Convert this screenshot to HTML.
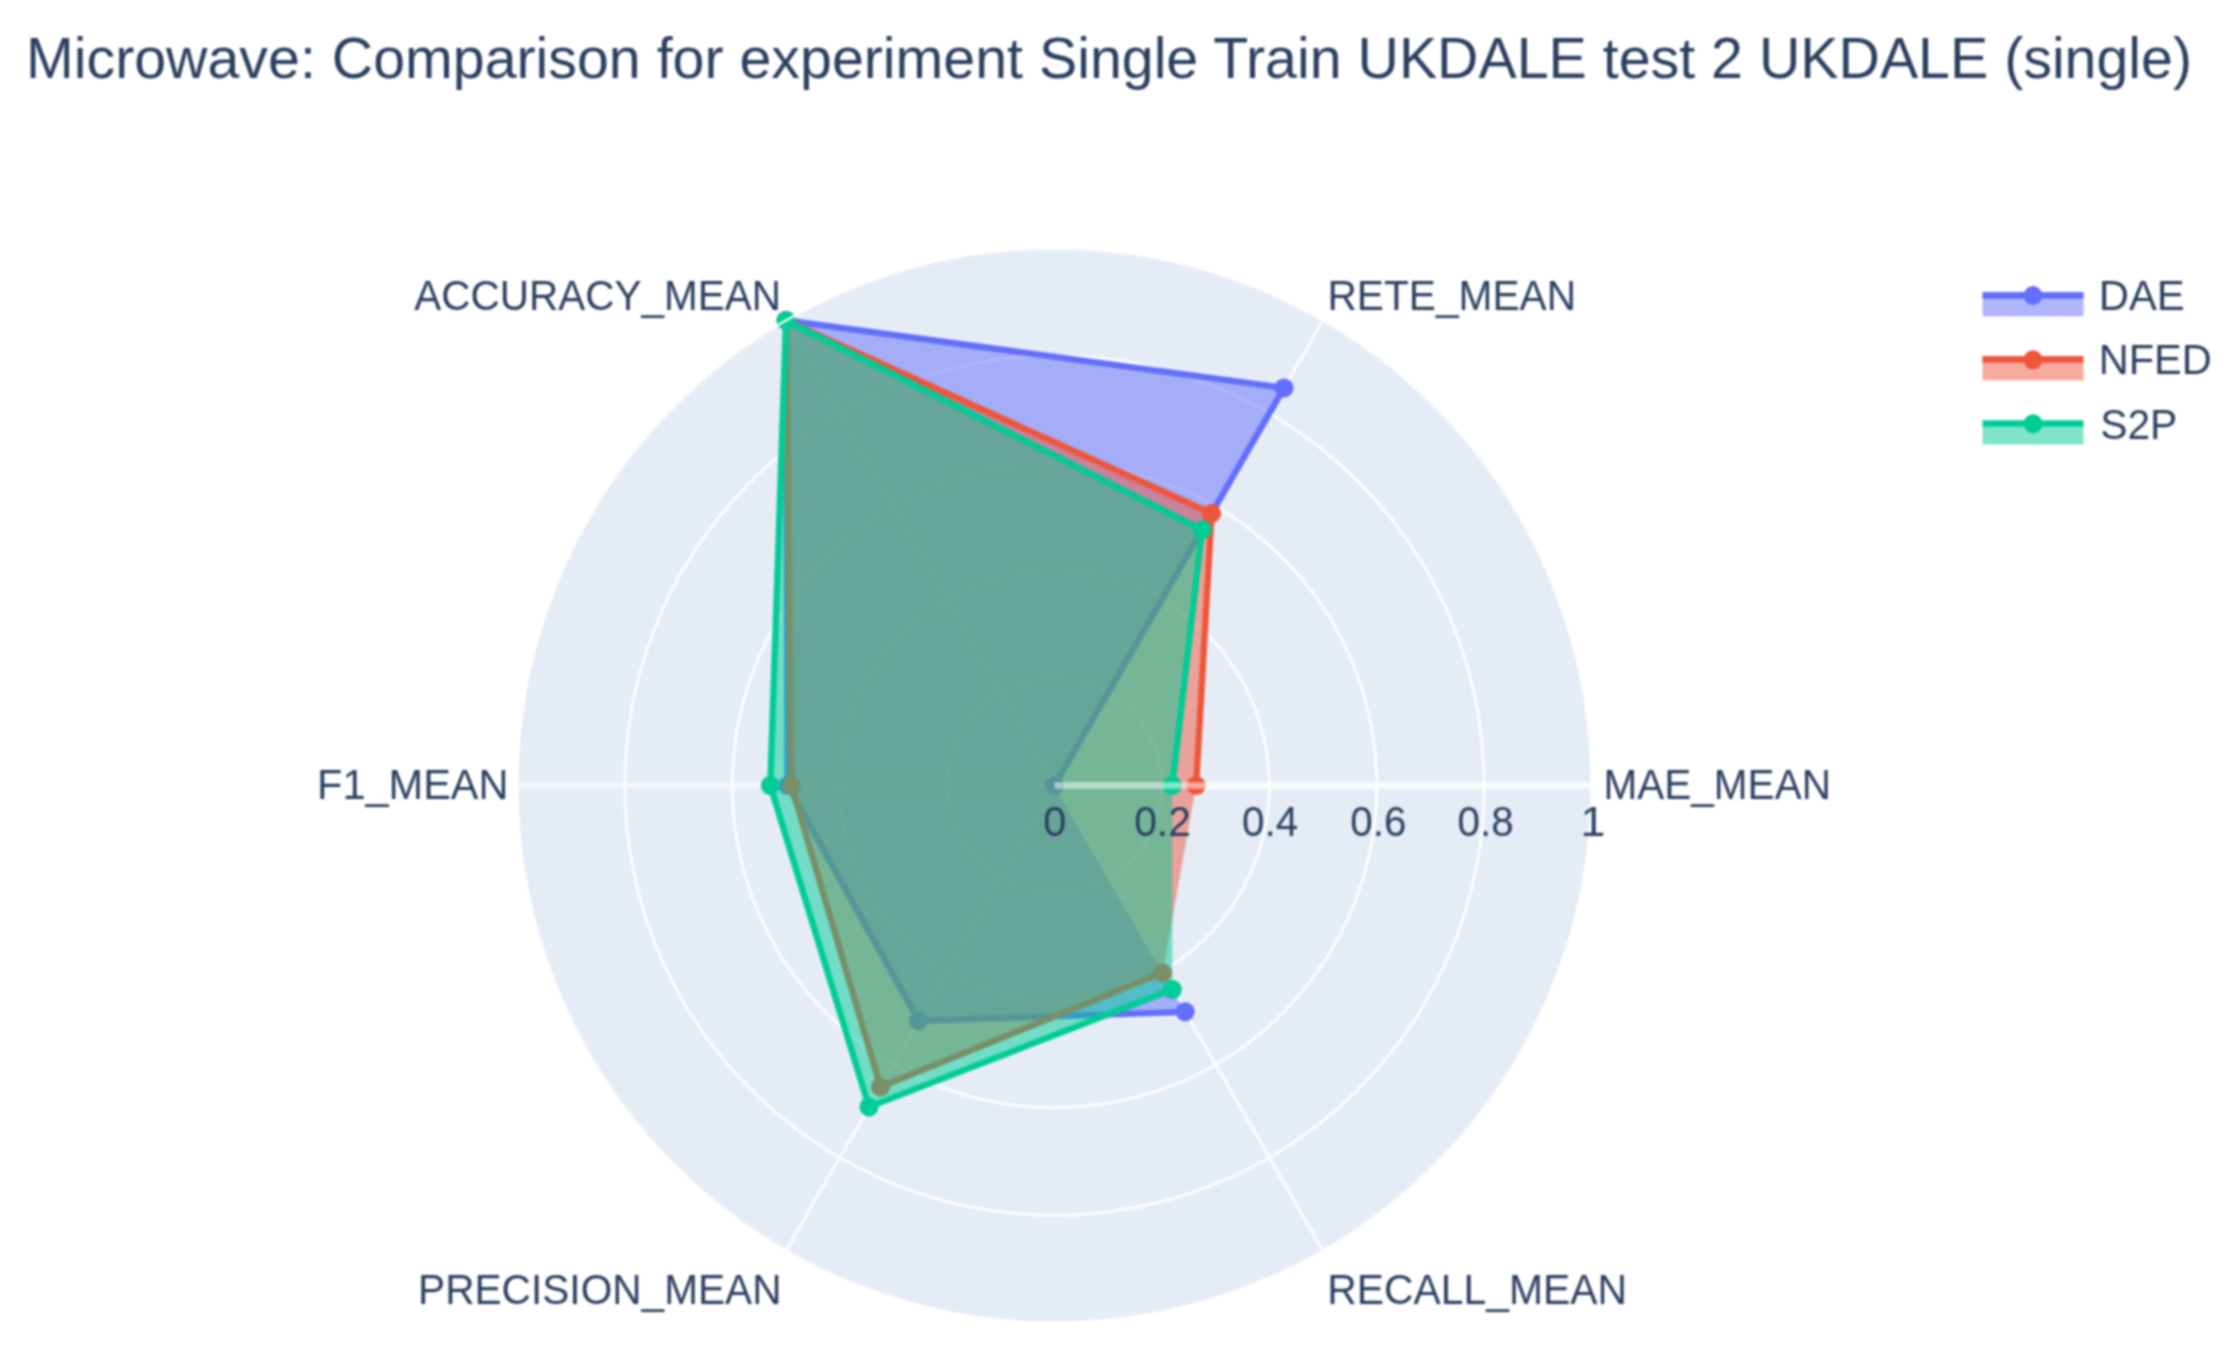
<!DOCTYPE html>
<html lang="en"><head><meta charset="utf-8"><title>Microwave: Comparison</title>
<style>html,body{margin:0;padding:0;background:#fff}body{width:2237px;height:1361px;overflow:hidden}</style></head>
<body>
<svg width="2237" height="1361" viewBox="0 0 2237 1361" style="display:block;filter:blur(0.9px);font-family:'Liberation Sans',sans-serif">
<rect width="2237" height="1361" fill="#fff"/>
<g id="chart">
<circle cx="1054.5" cy="785.5" r="537.0" fill="#E5ECF6"/>
<line x1="1054.5" y1="785.5" x2="1323.00" y2="320.44" stroke="#fff" stroke-width="2.6"/>
<line x1="1054.5" y1="785.5" x2="786.00" y2="320.44" stroke="#fff" stroke-width="2.6"/>
<line x1="1054.5" y1="785.5" x2="786.00" y2="1250.56" stroke="#fff" stroke-width="2.6"/>
<line x1="1054.5" y1="785.5" x2="1323.00" y2="1250.56" stroke="#fff" stroke-width="2.6"/>
<line x1="517.5" y1="785.5" x2="1591.5" y2="785.5" stroke="#fff" stroke-opacity="0.5" stroke-width="6.74"/>
<circle cx="1054.5" cy="785.5" r="107.40" fill="none" stroke="#fff" stroke-width="2.6"/>
<circle cx="1054.5" cy="785.5" r="214.80" fill="none" stroke="#fff" stroke-width="2.6"/>
<circle cx="1054.5" cy="785.5" r="322.20" fill="none" stroke="#fff" stroke-width="2.6"/>
<circle cx="1054.5" cy="785.5" r="429.60" fill="none" stroke="#fff" stroke-width="2.6"/>
<g class="trace">
<path d="M1054.5,785.5 L1284.1,387.9 L786.0,320.4 L787.6,785.5 L918.6,1020.8 L1185.2,1011.8 Z" fill="#636EFA" fill-opacity="0.5" stroke="none"/>
<path d="M1054.5,785.5 L1284.1,387.9 L786.0,320.4 L787.6,785.5 L918.6,1020.8 L1185.2,1011.8" fill="none" stroke="#636EFA" stroke-width="6.3" stroke-linejoin="round"/>
<circle cx="1054.5" cy="785.5" r="9.5" fill="#636EFA"/>
<circle cx="1284.1" cy="387.9" r="9.5" fill="#636EFA"/>
<circle cx="786.0" cy="320.4" r="9.5" fill="#636EFA"/>
<circle cx="787.6" cy="785.5" r="9.5" fill="#636EFA"/>
<circle cx="918.6" cy="1020.8" r="9.5" fill="#636EFA"/>
<circle cx="1185.2" cy="1011.8" r="9.5" fill="#636EFA"/>
</g>
<g class="trace">
<path d="M1196.1,785.5 L1211.6,513.4 L786.0,320.4 L791.4,785.5 L880.5,1086.9 L1162.6,972.7 Z" fill="#EF553B" fill-opacity="0.5" stroke="none"/>
<path d="M1196.1,785.5 L1211.6,513.4 L786.0,320.4 L791.4,785.5 L880.5,1086.9 L1162.6,972.7" fill="none" stroke="#EF553B" stroke-width="6.3" stroke-linejoin="round"/>
<circle cx="1196.1" cy="785.5" r="9.5" fill="#EF553B"/>
<circle cx="1211.6" cy="513.4" r="9.5" fill="#EF553B"/>
<circle cx="786.0" cy="320.4" r="9.5" fill="#EF553B"/>
<circle cx="791.4" cy="785.5" r="9.5" fill="#EF553B"/>
<circle cx="880.5" cy="1086.9" r="9.5" fill="#EF553B"/>
<circle cx="1162.6" cy="972.7" r="9.5" fill="#EF553B"/>
</g>
<g class="trace">
<path d="M1172.3,785.5 L1202.2,529.7 L786.0,320.4 L770.3,785.5 L869.0,1106.9 L1172.3,989.5 Z" fill="#00CC96" fill-opacity="0.5" stroke="none"/>
<path d="M1172.3,785.5 L1202.2,529.7 L786.0,320.4 L770.3,785.5 L869.0,1106.9 L1172.3,989.5" fill="none" stroke="#00CC96" stroke-width="6.3" stroke-linejoin="round"/>
<circle cx="1172.3" cy="785.5" r="9.5" fill="#00CC96"/>
<circle cx="1202.2" cy="529.7" r="9.5" fill="#00CC96"/>
<circle cx="786.0" cy="320.4" r="9.5" fill="#00CC96"/>
<circle cx="770.3" cy="785.5" r="9.5" fill="#00CC96"/>
<circle cx="869.0" cy="1106.9" r="9.5" fill="#00CC96"/>
<circle cx="1172.3" cy="989.5" r="9.5" fill="#00CC96"/>
</g>
<circle cx="1054.5" cy="785.5" r="537.0" fill="none" stroke="#fff" stroke-width="2"/>
<line x1="1054.5" y1="785.5" x2="1591.5" y2="785.5" stroke="#fff" stroke-opacity="0.5" stroke-width="6.74"/>
</g>
<rect x="1982.5" y="295.3" width="101.0" height="21" fill="#636EFA" fill-opacity="0.5"/>
<line x1="1982.5" y1="295.3" x2="2083.5" y2="295.3" stroke="#636EFA" stroke-width="6.74"/>
<circle cx="2033.0" cy="295.6" r="9.5" fill="#636EFA"/>
<rect x="1982.5" y="359.4" width="101.0" height="21" fill="#EF553B" fill-opacity="0.5"/>
<line x1="1982.5" y1="359.4" x2="2083.5" y2="359.4" stroke="#EF553B" stroke-width="6.74"/>
<circle cx="2033.0" cy="359.7" r="9.5" fill="#EF553B"/>
<rect x="1982.5" y="423.5" width="101.0" height="21" fill="#00CC96" fill-opacity="0.5"/>
<line x1="1982.5" y1="423.5" x2="2083.5" y2="423.5" stroke="#00CC96" stroke-width="6.74"/>
<circle cx="2033.0" cy="423.8" r="9.5" fill="#00CC96"/>
<text id="title" transform="translate(26.00,78.10) scale(1.0004,0.9965)" font-size="57.3" fill="#2a3f5f">Microwave: Comparison for experiment Single Train UKDALE test 2 UKDALE (single)</text>
<text id="acc" transform="translate(414.30,310.40) scale(1.0025,1.0547)" font-size="40.4" fill="#2a3f5f">ACCURACY_MEAN</text>
<text id="rete" transform="translate(1327.38,310.40) scale(1.0075,1.0547)" font-size="40.4" fill="#2a3f5f">RETE_MEAN</text>
<text id="mae" transform="translate(1603.49,798.70) scale(1.0032,1.0547)" font-size="40.4" fill="#2a3f5f">MAE_MEAN</text>
<text id="f1" transform="translate(317.02,799.00) scale(1.0283,1.0547)" font-size="40.4" fill="#2a3f5f">F1_MEAN</text>
<text id="prec" transform="translate(418.08,1304.00) scale(1.0059,1.0547)" font-size="40.4" fill="#2a3f5f">PRECISION_MEAN</text>
<text id="recall" transform="translate(1327.37,1304.00) scale(1.0114,1.0547)" font-size="40.4" fill="#2a3f5f">RECALL_MEAN</text>
<text id="ldae" transform="translate(2098.69,310.40) scale(1.0359,1.0547)" font-size="40.4" fill="#2a3f5f">DAE</text>
<text id="lnfed" transform="translate(2098.71,374.30) scale(1.0286,1.0547)" font-size="40.4" fill="#2a3f5f">NFED</text>
<text id="ls2p" transform="translate(2100.18,438.50) scale(1.0110,1.0547)" font-size="40.4" fill="#2a3f5f">S2P</text>
<text id="t0" transform="translate(1043.17,835.70) scale(1.0250,1.0547)" font-size="40.4" fill="#2a3f5f">0</text>
<text id="t2" transform="translate(1134.19,835.70) scale(1.0094,1.0547)" font-size="40.4" fill="#2a3f5f">0.2</text>
<text id="t4" transform="translate(1242.10,835.70) scale(1.0019,1.0547)" font-size="40.4" fill="#2a3f5f">0.4</text>
<text id="t6" transform="translate(1350.30,835.70) scale(1.0000,1.0547)" font-size="40.4" fill="#2a3f5f">0.6</text>
<text id="t8" transform="translate(1457.60,835.70) scale(1.0000,1.0547)" font-size="40.4" fill="#2a3f5f">0.8</text>
<text id="t10" transform="translate(1580.38,835.70) scale(1.1056,1.0547)" font-size="40.4" fill="#2a3f5f">1</text>
</svg>
</body></html>
